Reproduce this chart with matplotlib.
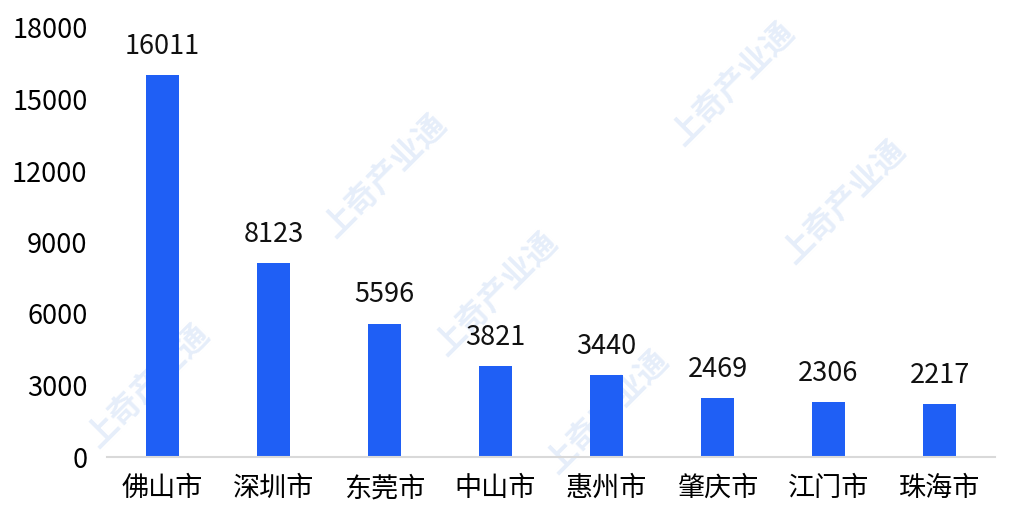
import matplotlib
matplotlib.use("Agg")
import matplotlib.pyplot as plt

plt.rcParams['font.family'] = ['Noto Sans CJK SC', 'DejaVu Sans']

categories = ["佛山市", "深圳市", "东莞市", "中山市", "惠州市", "肇庆市", "江门市", "珠海市"]
values = [16011, 8123, 5596, 3821, 3440, 2469, 2306, 2217]
yticks = [0, 3000, 6000, 9000, 12000, 15000, 18000]

W, H, DPI = 1014, 528, 100
fig = plt.figure(figsize=(W / DPI, H / DPI), dpi=DPI)
fig.patch.set_facecolor("white")

# watermark lattice (only those fully inside the figure)
ox, oy = 385, 176
a = (111, 118)
b = (348, -92)
half = 82
for i in range(-6, 7):
    for j in range(-4, 5):
        cx = ox + i * a[0] + j * b[0]
        cy = oy + i * a[1] + j * b[1]
        if half < cx < W - half and half < cy < H - half:
            fig.text(cx / W, 1 - cy / H, "上奇产业通", rotation=45, fontsize=23,
                     fontweight="bold", color="#e6eefa", ha="center", va="center",
                     rotation_mode="anchor", zorder=-5)

ax = fig.add_axes([107 / W, (H - 457) / H, (995 - 107) / W, (457 - 28) / H])
ax.set_facecolor("none")
x = list(range(len(categories)))
ax.bar(x, values, width=0.3, color="#1f5ff5", zorder=2)
ax.set_xlim(-0.5, len(categories) - 0.5)
ax.set_ylim(0, 18000)
ax.set_yticks(yticks)
ax.set_yticklabels([str(t) for t in yticks], fontsize=19.5)
ax.set_xticks(x)
ax.set_xticklabels(categories, fontsize=19.5)
ax.tick_params(axis="both", length=0)
ax.tick_params(axis="y", pad=14)
ax.tick_params(axis="x", pad=13)
for s in ["top", "right", "left"]:
    ax.spines[s].set_visible(False)
ax.spines["bottom"].set_color("#d9d9d9")
ax.spines["bottom"].set_linewidth(1.5)

for xi, v in zip(x, values):
    ax.annotate(str(v), (xi, v), xytext=(0, 11), textcoords="offset points",
                ha="center", va="bottom", fontsize=19.5, color="#111111")

fig.savefig("out.png", dpi=DPI)
